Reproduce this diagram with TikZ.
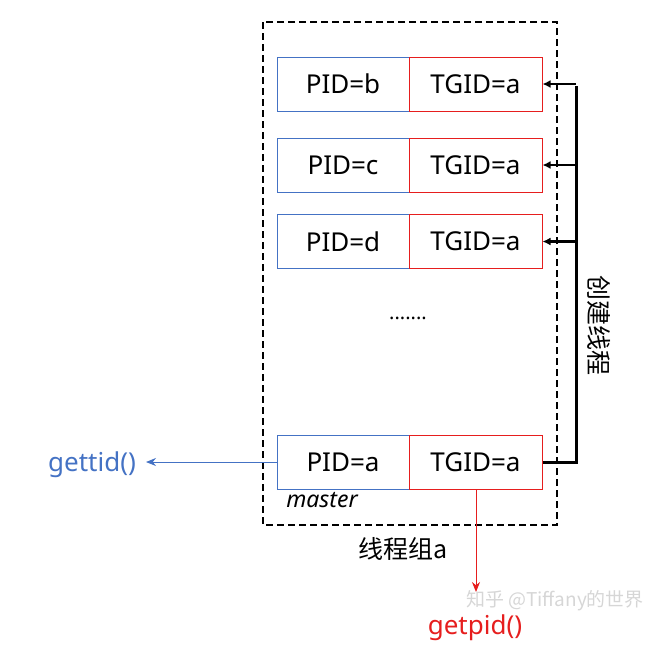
\documentclass[tikz,border=0pt]{standalone}
\usepackage{fontspec}
\setmainfont{Noto Sans}
\newfontfamily\cjk{Noto Sans CJK SC}
\usetikzlibrary{arrows.meta}
\definecolor{pblue}{RGB}{68,114,196}
\definecolor{pred}{RGB}{230,30,30}
\begin{document}
\begin{tikzpicture}[x=1pt,y=-1pt,
  fnt/.style={font=\fontsize{26}{30}\selectfont},
  pbox/.style={fnt,draw=pblue,line width=1pt,minimum width=132pt,minimum height=54pt,inner sep=0pt},
  tbox/.style={fnt,draw=pred,line width=1pt,minimum width=133pt,minimum height=54pt,inner sep=0pt},
  thk/.style={line width=2.5pt,-{Latex[length=8pt,width=8pt]}}]
\useasboundingbox (0,0) rectangle (662,654);
\draw[line width=2pt,dash pattern=on 7pt off 4pt] (263,22) rectangle (557,525);
\node[pbox] (p1) at (343,84) {PID=b};
\node[tbox] (t1) at (475.5,84) {TGID=a};
\node[pbox] (p2) at (343,165) {PID=c};
\node[tbox] (t2) at (475.5,165) {TGID=a};
\node[pbox] (p3) at (343,241.5) {PID=d};
\node[tbox] (t3) at (475.5,241.5) {TGID=a};
\node[pbox] (p4) at (343,462) {PID=a};
\node[tbox] (t4) at (475.5,462) {TGID=a};
\node[font=\fontsize{20}{22}\selectfont] (dots) at (408,318) {.......};
\coordinate (c0) at (576,462);
\coordinate (c1) at (576,84);
\coordinate (c2) at (576,165);
\coordinate (c3) at (576,241.5);
\draw[line width=3pt] (t4.east) -- (c0) -- ([yshift=-1.5pt]c1);
\draw[thk] (c1) -- (t1.east);
\draw[thk] (c2) -- (t2.east);
\draw[thk] (c3) -- (t3.east);
\node[rotate=-90,font=\cjk\fontsize{25}{28}\selectfont] (lab) at (599,325) {创建线程};
\node[font=\fontsize{23}{26}\selectfont\itshape] (m) at (322,500) {master};
\node[font=\cjk\fontsize{25}{28}\selectfont] (g) at (403,549) {线程组a};
\node[fnt,text=pblue] (gt) at (92,465) {gettid()};
\coordinate (ge) at (146,462);
\draw[pblue,line width=1pt,-{Stealth[length=10pt,width=8pt]}] (p4.west) -- (ge);
\node[fnt,text=pred] (gp) at (475,628) {getpid()};
\coordinate (r0) at (476,489);
\draw[pred,line width=1pt,-{Stealth[length=10pt,width=8pt]}] (r0) -- (476,592);
\node[font=\cjk\fontsize{19}{22}\selectfont,text=gray!40,opacity=0.8] (wm) at (555,601) {知乎 @Tiffany的世界};
\end{tikzpicture}
\end{document}
